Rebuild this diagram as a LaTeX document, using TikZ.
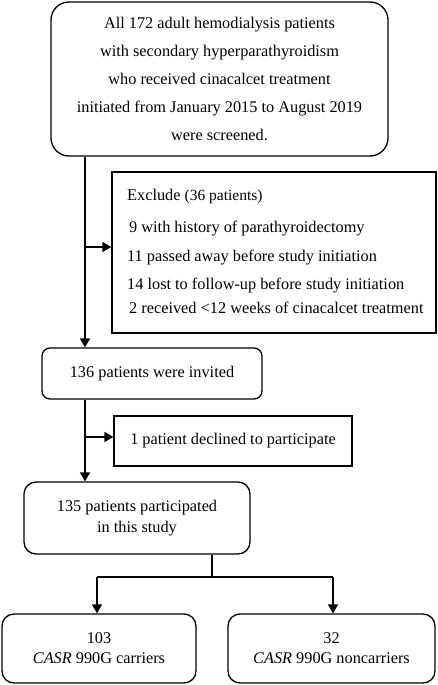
\documentclass[tikz,border=0pt]{standalone}
\usepackage{fontspec}
\setmainfont{Liberation Serif}
\usetikzlibrary{arrows.meta,calc}
\begin{document}
\begin{tikzpicture}[x=1pt,y=-1pt,
  box/.style={draw,line width=1.3pt,inner sep=0pt,align=center},
  rbox/.style={box,rounded corners=#1},
  arr/.style={line width=1.3pt,-{Triangle[length=9pt,width=10pt]}},
  ln/.style={line width=1.3pt},
  txt/.style={inner sep=0pt,anchor=base west,font=\fontsize{16.3}{19}\selectfont}
]
\useasboundingbox (0,0) rectangle (437,685);
\node[rbox=18pt,minimum width=337pt,minimum height=154pt,font=\fontsize{16.3}{28}\selectfont] (top) at (219.5,79)
  {All 172 adult hemodialysis patients\\with secondary hyperparathyroidism\\who received cinacalcet treatment\\initiated from January 2015 to August 2019\\were screened.};
\node[box,minimum width=324pt,minimum height=161pt] (excl) at (274,252.5) {};
\node[txt] (e1) at (127,200) {Exclude {\fontsize{15.5}{18}\selectfont(36 patients)}};
\node[txt] (e2) at (129,232) {9 with history of parathyroidectomy};
\node[txt] (e3) at (127,261) {11 passed away before study initiation};
\node[txt] (e4) at (127,289) {14 lost to follow-up before study initiation};
\node[txt] (e5) at (129,313) {2 received <12 weeks of cinacalcet treatment};
\node[rbox=8pt,minimum width=220pt,minimum height=51pt,font=\fontsize{16.3}{19}\selectfont] (inv) at (152,373.5) {136 patients were invited};
\node[box,minimum width=238pt,minimum height=50pt,font=\fontsize{16.3}{19}\selectfont] (decl) at (233,441) {1 patient declined to participate};
\node[rbox=12pt,minimum width=226pt,minimum height=72pt,font=\fontsize{16.3}{21}\selectfont] (part) at (137,518) {135 patients participated\\in this study};
\node[rbox=12pt,minimum width=194pt,minimum height=69pt,font=\fontsize{16.3}{20}\selectfont] (carr) at (99,648.5) {103\\\textit{CASR} 990G carriers};
\node[rbox=12pt,minimum width=207pt,minimum height=69pt,font=\fontsize{16.3}{20}\selectfont] (nonc) at (331.5,648.5) {32\\\textit{CASR} 990G noncarriers};
\coordinate (v1) at (85,0);
\coordinate (ex) at (85,247);
\coordinate (dx) at (85,437);
\coordinate (sp) at (212,577);
\coordinate (lx) at (97,577);
\coordinate (rx) at (333,577);
\draw[arr] (top.south -| v1) -- (inv.north -| v1);
\draw[arr] (ex) -- (ex -| excl.west);
\draw[arr] (inv.south -| v1) -- (part.north -| v1);
\draw[arr] (dx) -- (dx -| decl.west);
\draw[ln] (part.south -| sp) -- (sp);
\draw[ln] (lx) -- (rx);
\draw[arr] (lx) -- (carr.north -| lx);
\draw[arr] (rx) -- (nonc.north -| rx);
\end{tikzpicture}
\end{document}
